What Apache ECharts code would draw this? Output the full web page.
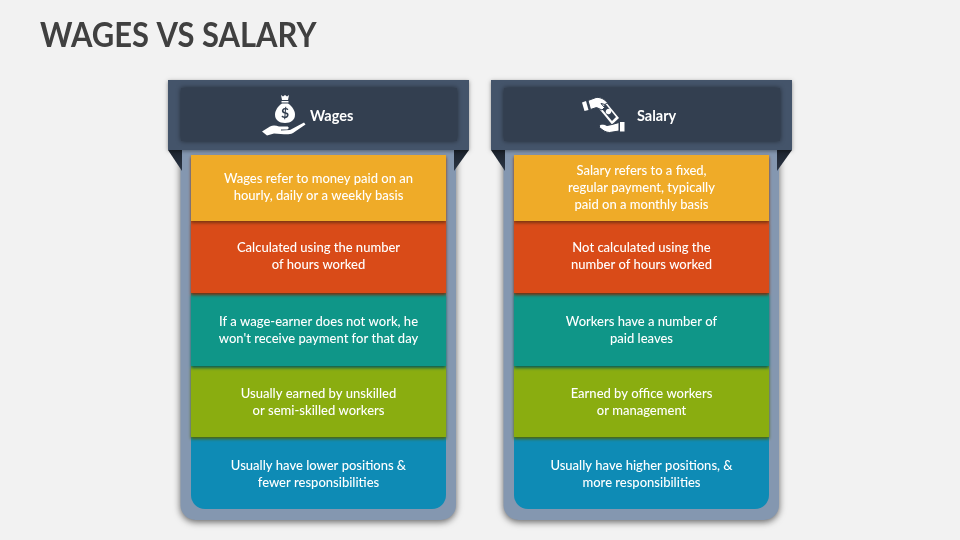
<!DOCTYPE html>
<html>
<head>
<meta charset="utf-8">
<style>html,body{margin:0;padding:0;background:#F2F2F2}#c{width:960px;height:540px}</style>
<script src="https://cdn.jsdelivr.net/npm/echarts@6/dist/echarts.min.js"></script>
</head>
<body>
<div id="c"></div>
<script>
const titleText = 'WAGES VS SALARY';
const categories = ['Wages', 'Salary'];
const rowHeights = [66, 72, 73, 71, 72];
const rowColors = ['#EFAB28', '#D94B18', '#0F9688', '#8AAD10', '#0E8BB5'];
const rowShadows = ['#7A3410', '#7A2A0A', '#0A5A52', '#4F6308', '#0A5A7A'];
const labelShift = [-0.5, -0.5, 0.5, 0.5, 1.5];
const wagesText = [
  'Wages refer to money paid on an\nhourly, daily or a weekly basis',
  'Calculated using the number\nof hours worked',
  "If a wage-earner does not work, he\nwon't receive payment for that day",
  'Usually earned by unskilled\nor semi-skilled workers',
  'Usually have lower positions &\nfewer responsibilities'
];
const salaryText = [
  'Salary refers to a fixed,\nregular payment, typically\npaid on a monthly basis',
  'Not calculated using the\nnumber of hours worked',
  'Workers have a number of\npaid leaves',
  'Earned by office workers\nor management',
  'Usually have higher positions, &\nmore responsibilities'
];

const FONT = 'Lato';
const chart = echarts.init(document.getElementById('c'), null, {renderer: 'canvas'});

function frame(x) {
  const els = [];
  els.push({type: 'rect', z: 1, shape: {x: x + 12.5, y: 140, width: 275.5, height: 380, r: [0, 0, 15, 15]},
    style: {fill: '#8497B0', shadowBlur: 7, shadowColor: 'rgba(0,0,0,0.6)', shadowOffsetX: 0, shadowOffsetY: 2}});
  els.push({type: 'polygon', z: 4, shape: {points: [[x, 150], [x + 14, 150], [x + 14, 171]]},
    style: {fill: {type: 'linear', x: 0, y: 0, x2: 0, y2: 1, colorStops: [{offset: 0, color: '#1B222C'}, {offset: 1, color: '#2B3646'}]}}});
  els.push({type: 'polygon', z: 4, shape: {points: [[x + 301, 150], [x + 286, 150], [x + 286, 171]]},
    style: {fill: {type: 'linear', x: 0, y: 0, x2: 0, y2: 1, colorStops: [{offset: 0, color: '#1B222C'}, {offset: 1, color: '#2B3646'}]}}});
  els.push({type: 'rect', z: 5, shape: {x: x, y: 80, width: 301, height: 70},
    style: {fill: '#44546A', shadowBlur: 4, shadowColor: 'rgba(0,0,0,0.4)', shadowOffsetY: 1}});
  els.push({type: 'rect', z: 6, shape: {x: x + 13, y: 88, width: 276, height: 53},
    style: {fill: '#333F50', shadowBlur: 5, shadowColor: 'rgba(0,0,0,0.55)'}});
  return els;
}

const W = '#FFFFFF';
const D = '#333F50';
let shapeCount = 0;
function p(d, fill, stroke) {
  const name = 'iconShape' + (shapeCount++);
  echarts.graphic.registerShape(name, echarts.graphic.extendPath(d));
  return {type: name, z: 7, shape: {}, style: {fill: fill || W, stroke: stroke || null, lineWidth: stroke ? 1 : 0}};
}

const wagesIcon = [
  p('M281 95 L283 96.5 L285 95 L287 96.5 L289 95 L288 100 L282 100 Z'),
  p('M281.5 101 L288.5 101 L288.5 102.5 L281.5 102.5 Z'),
  p('M282 103.5 L288 103.5 C292 106 295 110.5 295 114.5 C295 120 291 123 285 123 C279 123 275 120 275 114.5 C275 110.5 278 106 282 103.5 Z'),
  p('M262 131.5 L270 126.5 C273 125 276 125.5 279 126.5 L287 126.5 C289 126.5 289.5 129 287 129.5 L281 129.5 L281 130.5 L290 130 L304 122.5 L305.5 124.5 L293 133 C290 134.5 287 134.5 284 134.2 L274 133.5 L267 135.5 Z')
];
const salaryIcon = [
  p('M598.5 108 L605 101 L619 118 L612 124.5 Z'),
  p('M601.5 108.5 L605.5 104 L616 117 L612 121 Z', D),
  p('M606 110.5 a2.6 2.6 0 1 0 5 2 a2.6 2.6 0 1 0 -5 -2 Z'),
  p('M582 102.5 L586 101 L588.5 110 L584.5 111 Z'),
  p('M588 100.5 L596 97.5 C598.5 97 601.5 98 604 99.5 L607.5 102.5 L605 104.5 L601 103.5 L604.5 107.5 L602 110 L596.5 107.5 L590.5 109.5 Z', W, D),
  p('M599.5 125.5 C601 123.5 604 124 607 125.5 L612 124.5 L619 122.5 L619 131 L609.5 132.5 C606 132.5 603 130.5 599.5 127.5 Z', W, D),
  p('M620 122 L624.5 122 L624.5 131.5 L620 131.5 Z')
];

const graphicEls = [
  {type: 'text', z: 7, x: 40, y: 36, scaleX: 0.91, style: {text: titleText, fill: '#404040', font: 'bold 34px ' + FONT, verticalAlign: 'middle'}},
  ...frame(168),
  ...frame(491),
  ...wagesIcon,
  {type: 'text', z: 8, x: 285, y: 113.5, style: {text: '$', fill: D, font: 'bold 14px ' + FONT, align: 'center', verticalAlign: 'middle'}},
  ...salaryIcon,
  {type: 'text', z: 7, x: 310, y: 116, style: {text: categories[0], fill: W, font: 'bold 14.5px ' + FONT, verticalAlign: 'middle'}},
  {type: 'text', z: 7, x: 637, y: 116, style: {text: categories[1], fill: W, font: 'bold 14.5px ' + FONT, verticalAlign: 'middle'}}
];

const series = rowHeights.map((h, i) => ({
  type: 'bar',
  stack: 'rows',
  z: 3 + (rowHeights.length - i),
  barWidth: 255,
  silent: true,
  data: categories.map(() => h),
  itemStyle: {
    color: rowColors[i],
    borderRadius: i === rowHeights.length - 1 ? [0, 0, 14, 14] : 0,
    shadowBlur: i === rowHeights.length - 1 ? 0 : 3,
    shadowOffsetY: i === rowHeights.length - 1 ? 0 : 2,
    shadowColor: rowShadows[i]
  },
  label: {
    show: true,
    position: 'inside',
    offset: [0, labelShift[i]],
    color: '#FFFFFF',
    fontFamily: FONT,
    fontSize: 13,
    fontWeight: 500,
    lineHeight: 17,
    align: 'center',
    formatter: (o) => (o.dataIndex === 0 ? wagesText : salaryText)[i]
  }
}));

chart.setOption({
  animation: false,
  backgroundColor: '#F2F2F2',
  grid: {left: 157, top: 155, width: 646, height: 354},
  xAxis: {type: 'category', data: categories, show: false},
  yAxis: {type: 'value', inverse: true, min: 0, max: 354, show: false},
  series: series,
  graphic: {elements: graphicEls}
});
</script>
</body>
</html>
